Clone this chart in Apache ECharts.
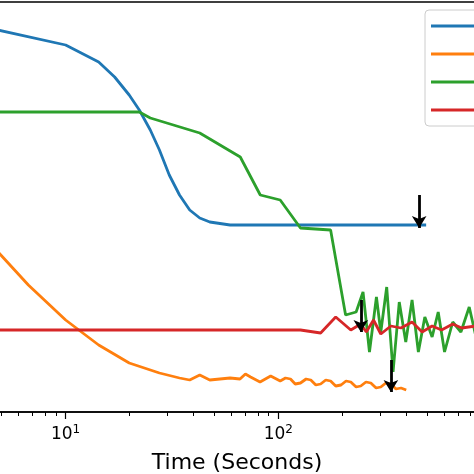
<!DOCTYPE html>
<html>
<head>
<meta charset="utf-8">
<script src="https://cdn.jsdelivr.net/npm/echarts@6/dist/echarts.min.js"></script>
<style>html,body{margin:0;padding:0;background:#fff}#chart{width:474px;height:474px}</style>
</head>
<body>
<div id="chart"></div>
<script>
var seriesNames = ['Run A', 'Run B', 'Run C', 'Run D'];
var colors = ['#1f77b4', '#ff7f0e', '#2ca02c', '#d62728'];

var blue = [[4.81,382],[10,367],[14.3,350],[17,335],[19.9,317],[22.2,302],[25,282],[27.6,262],[30.7,237],[34.3,217],[38.3,202],[42.7,194],[47.6,190],[59.3,187],[100,187],[200,187],[495,187]];
var orange = [[4.81,160],[6.68,127],[10,92],[14.3,67],[19.9,49],[27.6,39],[34.3,34],[38.3,32],[42.7,37],[47.6,32],[59.3,34],
  [66,33],[70,38],[74,35],[82,30],[92,36],[102,31],[108,34],[114,33],[120,28],[127,29],[135,33],[142,32],[150,27],[158,28],[167,32],[176,31],[186,26],[197,27],[208,31],[219,30],[232,25],[244,26],[258,30],[272,29],[288,24],[303,25],[320,29],[338,28],[357,23],[377,24],[399,22]];
var green = [[4.81,300],[22.2,300],[25,294],[42.7,279],[66.2,255],[82.2,217],[102,212],[127,184],[176,182],[207,97],[232,100],
  [250,120],[268,60],[289,115],[303,80],[323,125],[346,40],[370,110],[397,70],[425,112],[455,60],[488,95],[528,75],[564,100],[604,60],[660,90],[721,80],[789,105],[849,75]];
var red = [[4.81,82],[127,82],[158,79],[186,95],[219,82],
  [244,88],[259,80],[280,92],[303,78],[338,86],[377,84],[425,90],[474,80],[528,86],[585,82],[660,88],[727,84],[849,86]];
var arrows = [[[459,217],[459,184]],[[244,112],[244,80]],[[338,52],[338,20]]];

var chart = echarts.init(document.getElementById('chart'));
var data = [blue, orange, green, red];
var series = data.map(function(d, i) {
  return {
    name: seriesNames[i], type: 'line', data: d, showSymbol: false, symbol: 'none',
    lineStyle: { width: 2.8, color: colors[i] }, itemStyle: { color: colors[i] }, z: 2
  };
});
series[0].markLine = {
  silent: true, symbol: ['none', 'arrow'], symbolSize: [11, 12],
  label: { show: false },
  lineStyle: { color: '#000', width: 2.8, type: 'solid' },
  data: arrows.map(function(a) { return [{ coord: a[0] }, { coord: a[1] }]; })
};

chart.setOption({
  animation: false,
  grid: { left: -2, right: -2, top: 2, bottom: 62, show: true, borderColor: '#000', borderWidth: 1.5,
    outerBoundsMode: 'none', containLabel: false },
  legend: {
    data: seriesNames, orient: 'vertical', left: 425, top: 10,
    itemWidth: 44, itemHeight: 3, itemGap: 12, padding: [8, 6, 8, 6],
    icon: 'rect', backgroundColor: '#fff', borderColor: '#ccc', borderWidth: 1, borderRadius: 4,
    textStyle: { fontSize: 13, lineHeight: 16, color: '#000' }
  },
  xAxis: {
    type: 'log', logBase: 10, min: 4.81, max: 849,
    name: 'Time (Seconds)', nameLocation: 'middle', nameGap: 40,
    nameTextStyle: { fontSize: 22, color: '#000', fontFamily: 'DejaVu Sans' },
    axisLine: { show: true, lineStyle: { color: '#000', width: 1.5 } },
    axisTick: { show: true, length: 7, lineStyle: { color: '#000', width: 1.2 } },
    minorTick: { show: true, splitNumber: 9, length: 4, lineStyle: { color: '#000', width: 1 } },
    splitLine: { show: false },
    axisLabel: {
      margin: 12, color: '#000', fontFamily: 'DejaVu Sans', fontSize: 17,
      showMinLabel: false, showMaxLabel: false,
      formatter: function(v) {
        var e = Math.round(Math.log10(v));
        return '{b|10}{s|' + e + '}';
      },
      rich: { b: { fontSize: 17, color: '#000', fontFamily: 'DejaVu Sans' }, s: { fontSize: 12, color: '#000', fontFamily: 'DejaVu Sans', verticalAlign: 'top', padding: [0, 0, 9, 0] } }
    }
  },
  yAxis: {
    type: 'value', min: 0, max: 410,
    axisLine: { show: false }, axisTick: { show: false }, axisLabel: { show: false }, splitLine: { show: false }
  },
  series: series
});
</script>
</body>
</html>
